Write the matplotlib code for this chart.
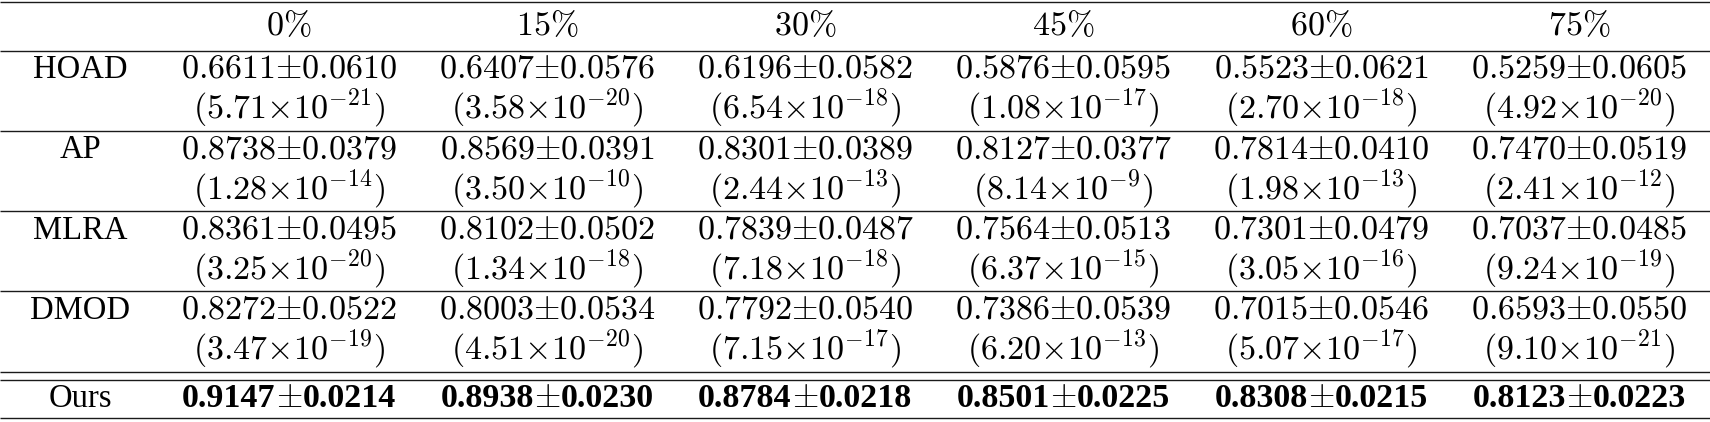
import matplotlib
matplotlib.use("Agg")
import matplotlib.pyplot as plt

# ---------------- data ----------------
columns = ["0", "15", "30", "45", "60", "75"]
methods = ["HOAD", "AP", "MLRA", "DMOD"]
means = [
    ["0.6611", "0.6407", "0.6196", "0.5876", "0.5523", "0.5259"],
    ["0.8738", "0.8569", "0.8301", "0.8127", "0.7814", "0.7470"],
    ["0.8361", "0.8102", "0.7839", "0.7564", "0.7301", "0.7037"],
    ["0.8272", "0.8003", "0.7792", "0.7386", "0.7015", "0.6593"],
]
stds = [
    ["0.0610", "0.0576", "0.0582", "0.0595", "0.0621", "0.0605"],
    ["0.0379", "0.0391", "0.0389", "0.0377", "0.0410", "0.0519"],
    ["0.0495", "0.0502", "0.0487", "0.0513", "0.0479", "0.0485"],
    ["0.0522", "0.0534", "0.0540", "0.0539", "0.0546", "0.0550"],
]
p_mant = [
    ["5.71", "3.58", "6.54", "1.08", "2.70", "4.92"],
    ["1.28", "3.50", "2.44", "8.14", "1.98", "2.41"],
    ["3.25", "1.34", "7.18", "6.37", "3.05", "9.24"],
    ["3.47", "4.51", "7.15", "6.20", "5.07", "9.10"],
]
p_exp = [
    ["-21", "-20", "-18", "-17", "-18", "-20"],
    ["-14", "-10", "-13", "-9", "-13", "-12"],
    ["-20", "-18", "-18", "-15", "-16", "-19"],
    ["-19", "-20", "-17", "-13", "-17", "-21"],
]
ours_label = "Ours"
ours_means = ["0.9147", "0.8938", "0.8784", "0.8501", "0.8308", "0.8123"]
ours_stds = ["0.0214", "0.0230", "0.0218", "0.0225", "0.0215", "0.0223"]

# ---------------- layout ----------------
W, H = 1710, 422
fig = plt.figure(figsize=(W / 100, H / 100), dpi=100)
ax = fig.add_axes([0, 0, 1, 1])
ax.set_xlim(0, W)
ax.set_ylim(H, 0)
ax.axis("off")

FS_LABEL = 23.5
FS = 24.5
FS_BOLD = 24.5
label_x = 80
col_x0, col_dx = 289, 258
line_col = "#1a1a1a"
lw = 1.0

header_top, header_bot = 1.5, 50.5
row_h = 80.3
ours_top = 379.5
bottom = 417.5

# rules
ax.hlines([header_top, header_bot], 0, W, color=line_col, lw=lw)
for i in range(len(methods)):
    ax.hlines(header_bot + (i + 1) * row_h, 0, W, color=line_col, lw=lw)
ax.hlines([ours_top, bottom], 0, W, color=line_col, lw=lw)

# header
for j, c in enumerate(columns):
    ax.text(col_x0 + j * col_dx, 35, r"$%s\%%$" % c, ha="center", va="baseline",
            fontsize=FS, math_fontfamily="cm")

# method rows
for i, m in enumerate(methods):
    top = header_bot + i * row_h
    b1, b2 = top + 27.5, top + 67.5
    ax.text(label_x, b1, m, ha="center", va="baseline", fontsize=FS_LABEL,
            family="Liberation Serif")
    for j in range(len(columns)):
        x = col_x0 + j * col_dx
        ax.text(x, b1, r"$%s{\pm}%s$" % (means[i][j], stds[i][j]), ha="center",
                va="baseline", fontsize=FS, math_fontfamily="cm")
        ax.text(x, b2, r"$({%s}{\times}10^{%s})$" % (p_mant[i][j], p_exp[i][j]),
                ha="center", va="baseline", fontsize=FS, math_fontfamily="cm")

# ours row
bo = ours_top + 27.5
ax.text(label_x, bo, ours_label, ha="center", va="baseline", fontsize=FS_LABEL,
        family="Liberation Serif")
half_pm = 13.3
for j in range(len(columns)):
    x = col_x0 + j * col_dx
    ax.text(x - half_pm, bo, ours_means[j], ha="right", va="baseline",
            fontsize=FS_BOLD, family="Liberation Serif", weight="bold")
    ax.text(x, bo, r"$\pm$", ha="center", va="baseline", fontsize=FS,
            math_fontfamily="cm")
    ax.text(x + half_pm, bo, ours_stds[j], ha="left", va="baseline",
            fontsize=FS_BOLD, family="Liberation Serif", weight="bold")

fig.savefig("out.png", dpi=100)
